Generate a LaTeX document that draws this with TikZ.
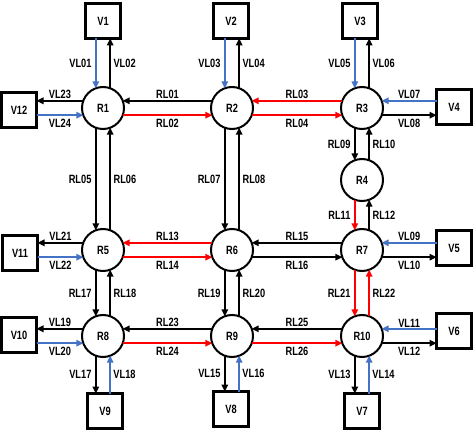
\documentclass[tikz,border=0pt]{standalone}
\usepackage{fontspec}
\setmainfont{Liberation Sans}
\newfontfamily\labfont{Liberation Sans}[FakeStretch=0.77]
\usetikzlibrary{arrows.meta}
\definecolor{myblue}{RGB}{68,114,196}
\definecolor{myred}{RGB}{255,0,0}
\newcommand{\labfnt}{\labfont\bfseries\fontsize{12}{14}\selectfont}
\tikzset{
  every node/.append style={font=\labfnt},
  rnode/.style={circle, draw, line width=2pt, minimum size=42pt, inner sep=0pt, outer sep=0pt},
  vnode/.style={rectangle, draw, line width=2.4pt, minimum size=35pt, inner sep=0pt, outer sep=0pt},
  conn/.style={line width=1.8pt, -{Triangle[length=7pt,width=6.5pt]}},
  blk/.style={conn, draw=black},
  redl/.style={conn, draw=myred},
  bluel/.style={conn, draw=myblue, line width=1.6pt},
  la/.style={midway, above, inner sep=1pt},
  lb/.style={midway, below, inner sep=3pt},
  ll/.style={midway, left, inner sep=3.5pt},
  lr/.style={midway, right, inner sep=2.5pt}
}
\begin{document}
\begin{tikzpicture}[x=1pt, y=-1pt]
\useasboundingbox (0,0) rectangle (474,430);
% routers
\node[rnode] (R1) at (103,108) {R1};
\node[rnode] (R2) at (232,108) {R2};
\node[rnode] (R3) at (362,108) {R3};
\node[rnode] (R4) at (362,180) {R4};
\node[rnode] (R5) at (103,250) {R5};
\node[rnode] (R6) at (232,250) {R6};
\node[rnode] (R7) at (362,250) {R7};
\node[rnode] (R8) at (103,336) {R8};
\node[rnode] (R9) at (232,336) {R9};
\node[rnode] (R10) at (362,336) {R10};
% vehicles
\node[vnode] (V1) at (103,21) {V1};
\node[vnode] (V2) at (231,21) {V2};
\node[vnode] (V3) at (360,21) {V3};
\node[vnode] (V4) at (454,107) {V4};
\node[vnode] (V12) at (19,110) {V12};
\node[vnode] (V11) at (20,253) {V11};
\node[vnode] (V5) at (454,248) {V5};
\node[vnode] (V10) at (19,335) {V10};
\node[vnode] (V9) at (105,411) {V9};
\node[vnode] (V8) at (231,409) {V8};
\node[vnode] (V7) at (362,411) {V7};
\node[vnode] (V6) at (454,331) {V6};
% horizontal router links
\draw[blk]  (R2.160) -- (R1.20) node[la]{RL01};
\draw[redl] (R1.-20) -- (R2.200) node[lb]{RL02};
\draw[redl] (R3.160) -- (R2.20) node[la]{RL03};
\draw[redl] (R2.-20) -- (R3.200) node[lb]{RL04};
\draw[redl] (R6.160) -- (R5.20) node[la]{RL13};
\draw[redl] (R5.-20) -- (R6.200) node[lb]{RL14};
\draw[blk]  (R7.160) -- (R6.20) node[la]{RL15};
\draw[blk]  (R6.-20) -- (R7.200) node[lb]{RL16};
\draw[blk]  (R9.160) -- (R8.20) node[la]{RL23};
\draw[redl] (R8.-20) -- (R9.200) node[lb]{RL24};
\draw[blk]  (R10.160) -- (R9.20) node[la]{RL25};
\draw[redl] (R9.-20) -- (R10.200) node[lb]{RL26};
% vertical router links
\draw[blk]  (R1.250) -- (R5.110) node[ll]{RL05};
\draw[blk]  (R5.70) -- (R1.290) node[lr]{RL06};
\draw[blk]  (R2.250) -- (R6.110) node[ll]{RL07};
\draw[blk]  (R6.70) -- (R2.290) node[lr]{RL08};
\draw[blk]  (R3.250) -- (R4.110) node[ll]{RL09};
\draw[blk]  (R4.70) -- (R3.290) node[lr]{RL10};
\draw[redl] (R4.250) -- (R7.110) node[ll]{RL11};
\draw[blk]  (R7.70) -- (R4.290) node[lr]{RL12};
\draw[blk]  (R5.250) -- (R8.110) node[ll]{RL17};
\draw[blk]  (R8.70) -- (R5.290) node[lr]{RL18};
\draw[blk]  (R6.250) -- (R9.110) node[ll]{RL19};
\draw[blk]  (R9.70) -- (R6.290) node[lr]{RL20};
\draw[redl] (R7.250) -- (R10.110) node[ll]{RL21};
\draw[redl] (R10.70) -- (R7.290) node[lr]{RL22};
% vehicle links, top
\draw[bluel] (R1.110 |- V1.south) -- (R1.110) node[ll]{VL01};
\draw[blk]   (R1.70) -- (R1.70 |- V1.south) node[lr]{VL02};
\draw[bluel] (R2.110 |- V2.south) -- (R2.110) node[ll]{VL03};
\draw[blk]   (R2.70) -- (R2.70 |- V2.south) node[lr]{VL04};
\draw[bluel] (R3.110 |- V3.south) -- (R3.110) node[ll]{VL05};
\draw[blk]   (R3.70) -- (R3.70 |- V3.south) node[lr]{VL06};
% right
\draw[bluel] (R3.20 -| V4.west) -- (R3.20) node[la]{VL07};
\draw[blk]   (R3.-20) -- (R3.-20 -| V4.west) node[lb]{VL08};
\draw[bluel] (R7.20 -| V5.west) -- (R7.20) node[la]{VL09};
\draw[blk]   (R7.-20) -- (R7.-20 -| V5.west) node[lb]{VL10};
\draw[bluel] (R10.20 -| V6.west) -- (R10.20) node[la]{VL11};
\draw[blk]   (R10.-20) -- (R10.-20 -| V6.west) node[lb]{VL12};
% bottom
\draw[blk]   (R10.250) -- (R10.250 |- V7.north) node[ll]{VL13};
\draw[bluel] (R10.290 |- V7.north) -- (R10.290) node[lr]{VL14};
\draw[blk]   (R9.250) -- (R9.250 |- V8.north) node[ll]{VL15};
\draw[bluel] (R9.290 |- V8.north) -- (R9.290) node[lr]{VL16};
\draw[blk]   (R8.250) -- (R8.250 |- V9.north) node[ll]{VL17};
\draw[bluel] (R8.290 |- V9.north) -- (R8.290) node[lr]{VL18};
% left
\draw[blk]   (R8.160) -- (R8.160 -| V10.east) node[la]{VL19};
\draw[bluel] (R8.200 -| V10.east) -- (R8.200) node[lb]{VL20};
\draw[blk]   (R5.160) -- (R5.160 -| V11.east) node[la]{VL21};
\draw[bluel] (R5.200 -| V11.east) -- (R5.200) node[lb]{VL22};
\draw[blk]   (R1.160) -- (R1.160 -| V12.east) node[la]{VL23};
\draw[bluel] (R1.200 -| V12.east) -- (R1.200) node[lb]{VL24};
\end{tikzpicture}
\end{document}
